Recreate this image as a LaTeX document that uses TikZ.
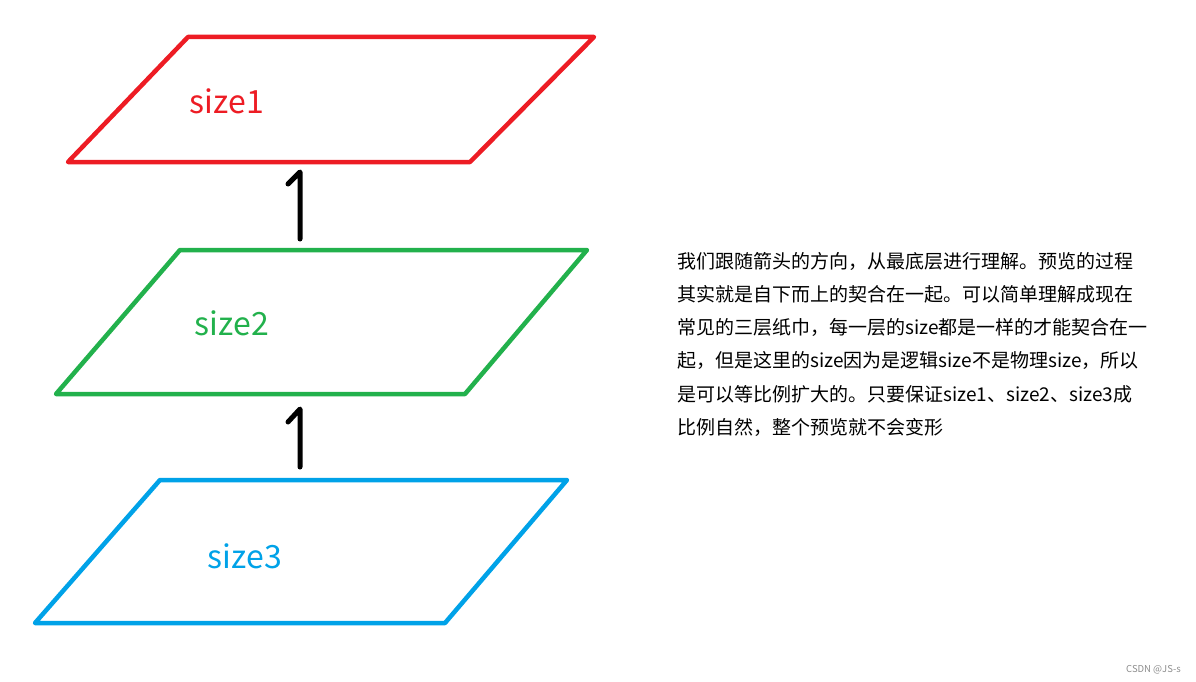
\documentclass[tikz,border=0pt]{standalone}
\usepackage{fontspec}
\setmainfont{Noto Sans CJK SC}
\definecolor{pred}{HTML}{ED1C24}
\definecolor{pgreen}{HTML}{22B14C}
\definecolor{pblue}{HTML}{00A2E8}
\begin{document}
\begin{tikzpicture}[x=1pt,y=-1pt,
  layer/.style={line width=4.5pt,line join=round,line cap=round},
  lbl/.style={font=\fontsize{32}{36}\selectfont,inner sep=0pt},
  arr/.style={line width=5pt,line cap=round,line join=round,black},
  para/.style={font=\fontsize{19}{22}\selectfont,anchor=base west,inner sep=0pt}]
\useasboundingbox (0,0) rectangle (1196,682);
% layers
\draw[layer,pred] (188,37) -- (594,37) -- (470,162) -- (68,162) -- cycle;
\draw[layer,pgreen] (180,250) -- (587,250) -- (465,394) -- (56,394) -- cycle;
\draw[layer,pblue] (160,480) -- (567,480) -- (445,623) -- (35,623) -- cycle;
\node[lbl,text=pred] (s1) at (227,101) {size1};
\node[lbl,text=pgreen] (s2) at (232,323) {size2};
\node[lbl,text=pblue] (s3) at (245,556) {size3};
% arrows
\coordinate (a1b) at (300,239);
\coordinate (a1t) at (300,172);
\coordinate (a1h) at (288,184);
\draw[arr] (a1b) -- (a1t) -- (a1h);
\coordinate (a2b) at (300,467);
\coordinate (a2t) at (300,409);
\coordinate (a2h) at (288,422);
\draw[arr] (a2b) -- (a2t) -- (a2h);
% text
\node[para] (t1) at (677,268) {我们跟随箭头的方向，从最底层进行理解。预览的过程};
\node[para] (t2) at (677,301.3) {其实就是自下而上的契合在一起。可以简单理解成现在};
\node[para] (t3) at (677,334.6) {常见的三层纸巾，每一层的size都是一样的才能契合在一};
\node[para] (t4) at (677,367.9) {起，但是这里的size因为是逻辑size不是物理size，所以};
\node[para] (t5) at (677,401.2) {是可以等比例扩大的。只要保证size1、size2、size3成};
\node[para] (t6) at (677,434.5) {比例自然，整个预览就不会变形};
\node[font=\fontsize{9.5}{10}\selectfont,text=black!45,anchor=base east,inner sep=0pt] (wm) at (1181,672) {CSDN @JS-s};
\end{tikzpicture}
\end{document}
